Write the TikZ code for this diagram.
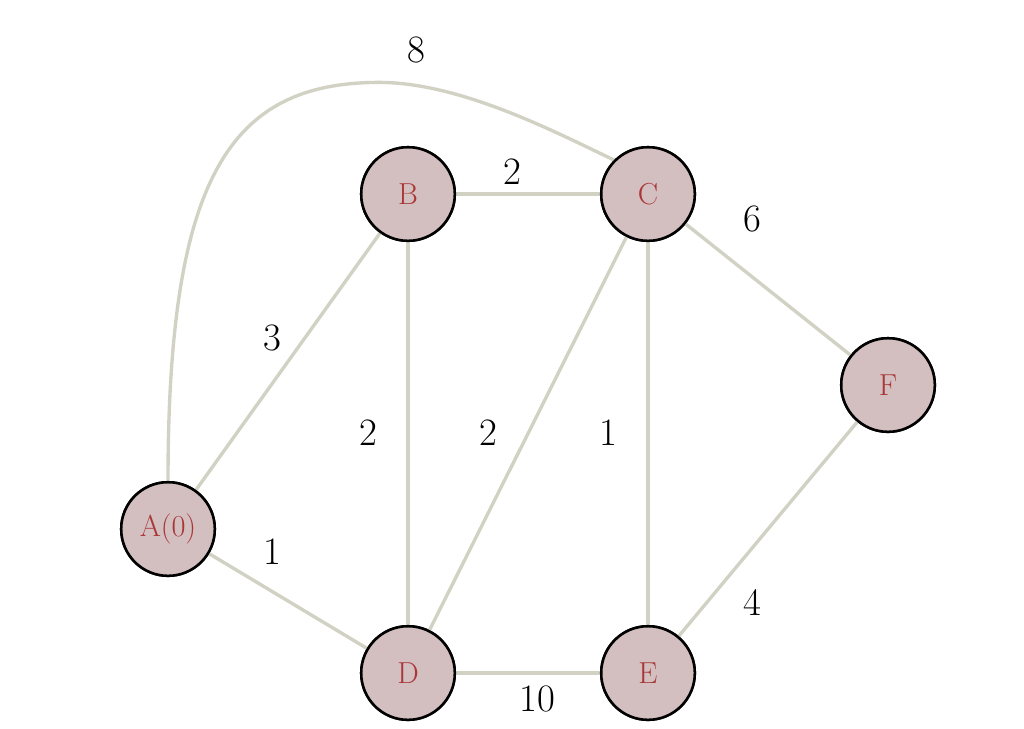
\documentclass[tikz,border=0pt]{standalone}
\begin{document}
\begin{tikzpicture}[x=1cm,y=1cm,
  vtx/.style={circle,draw=black,line width=1.5pt,fill=nodefill,minimum size=1.95cm,inner sep=0pt,text=nodetext,font=\fontsize{18}{21}\selectfont},
  edg/.style={draw=edgecol,line width=2pt},
  wt/.style={font=\fontsize{23}{26}\selectfont,inner sep=0pt}]
\definecolor{nodefill}{RGB}{211,190,192}
\definecolor{nodetext}{RGB}{170,55,55}
\definecolor{edgecol}{RGB}{210,210,196}
\useasboundingbox (0,0) rectangle (21.333,15.167);
\node[vtx] (A) at (3.5,4.146) {A(0)};
\node[vtx] (B) at (8.5,11.125) {B};
\node[vtx] (C) at (13.5,11.125) {C};
\node[vtx] (D) at (8.5,1.146) {D};
\node[vtx] (E) at (13.5,1.146) {E};
\node[vtx] (F) at (18.5,7.146) {F};
\draw[edg] (A) -- (B);
\draw[edg] (A) -- (D);
\draw[edg] (B) -- (C);
\draw[edg] (B) -- (D);
\draw[edg] (C) -- (D);
\draw[edg] (C) -- (E);
\draw[edg] (C) -- (F);
\draw[edg] (D) -- (E);
\draw[edg] (E) -- (F);
\draw[edg] (A.north) .. controls (3.5,11.5) and (4.8,13.45) .. (7.9,13.45) .. controls (9.6,13.45) and (11.6,12.4) .. (C.north west);
\node[vtx] at (A) {A(0)};
\node[vtx] at (B) {B};
\node[vtx] at (C) {C};
\node[vtx] at (D) {D};
\node[vtx] at (E) {E};
\node[vtx] at (F) {F};
\node[wt] (w1) at (8.667,14.125) {8};
\node[wt] (w2) at (10.667,11.6) {2};
\node[wt] (w3) at (15.667,10.6) {6};
\node[wt] (w4) at (5.667,8.125) {3};
\node[wt] (w5) at (7.667,6.146) {2};
\node[wt] (w6) at (10.167,6.146) {2};
\node[wt] (w7) at (12.667,6.146) {1};
\node[wt] (w8) at (5.667,3.667) {1};
\node[wt] (w9) at (15.667,2.625) {4};
\node[wt] (w10) at (11.2,0.6) {10};
\end{tikzpicture}
\end{document}
